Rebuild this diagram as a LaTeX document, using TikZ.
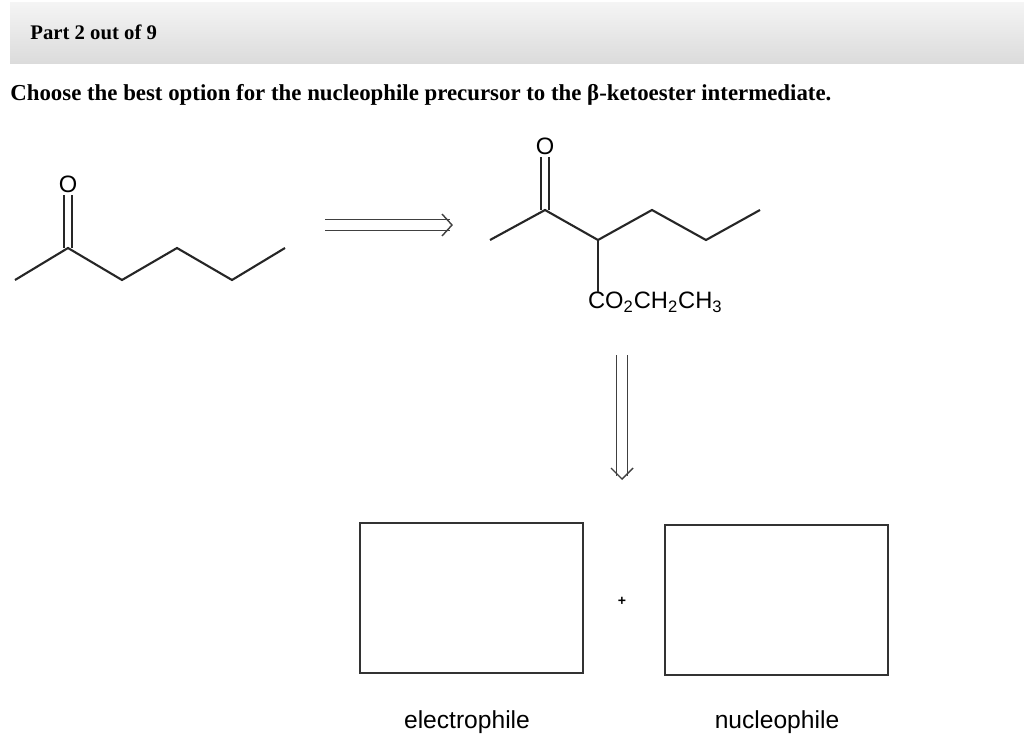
\documentclass[tikz,border=0pt]{standalone}
\usepackage{fontspec}
\setmainfont{Liberation Serif}
\setsansfont{Liberation Sans}
\usetikzlibrary{positioning}
\tikzset{
  bond/.style={line width=1.2pt, draw=black!85},
  retro/.style={line width=0.8pt, draw=black!75},
  chem/.style={font=\sffamily\fontsize{13.5}{14}\selectfont, inner sep=1pt},
  answerbox/.style={draw=black!80, line width=0.8pt, minimum width=223*0.02cm, minimum height=150*0.02cm, inner sep=0pt},
}
\begin{document}
\begin{tikzpicture}[x=0.02cm, y=-0.02cm]
  \useasboundingbox (0,0) rectangle (1024,744);
  % header bar
  \shade[top color=black!4, bottom color=black!14] (10,2) rectangle (1024,63);
  \node[anchor=west, font=\bfseries\fontsize{11.8}{13}\selectfont, inner sep=0pt] (part) at (30,32) {Part 2 out of 9};
  \node[anchor=west, font=\bfseries\fontsize{13}{15}\selectfont, inner sep=0pt] (question) at (10,95)
    {Choose the best option for the nucleophile precursor to the β-ketoester intermediate.};
  % target ketone
  \coordinate (a1) at (15,280);
  \coordinate (a2) at (68,248);
  \coordinate (a3) at (122,280);
  \coordinate (a4) at (177,248);
  \coordinate (a5) at (232,280);
  \coordinate (a6) at (285,248);
  \node[chem] (ao) at (68,184) {O};
  \draw[bond] (a1) -- (a2) -- (a3) -- (a4) -- (a5) -- (a6);
  \draw[bond] ([xshift=-2.5pt]a2) -- ([xshift=-2.5pt]ao.south);
  \draw[bond] ([xshift=2.5pt]a2) -- ([xshift=2.5pt]ao.south);
  % retrosynthetic arrow
  \coordinate (r1) at (325,225);
  \coordinate (r2) at (450,225);
  \draw[retro] ([yshift=3pt]r1) -- ([yshift=3pt]r2);
  \draw[retro] ([yshift=-3pt]r1) -- ([yshift=-3pt]r2);
  \draw[retro] (442,214) -- (452,225) -- (442,236);
  % beta-ketoester
  \coordinate (b1) at (490,240);
  \coordinate (b2) at (545,210);
  \coordinate (b3) at (598,240);
  \coordinate (b4) at (652,210);
  \coordinate (b5) at (706,240);
  \coordinate (b6) at (760,210);
  \node[chem] (bo) at (545,146) {O};
  \node[chem, anchor=north west] (ester) at (586,290) {CO\textsubscript{2}CH\textsubscript{2}CH\textsubscript{3}};
  \draw[bond] (b1) -- (b2) -- (b3) -- (b4) -- (b5) -- (b6);
  \draw[bond] (b3) -- (598,292);
  \draw[bond] ([xshift=-2.5pt]b2) -- ([xshift=-2.5pt]bo.south);
  \draw[bond] ([xshift=2.5pt]b2) -- ([xshift=2.5pt]bo.south);
  % retrosynthetic arrow down
  \coordinate (d1) at (622,355);
  \coordinate (d2) at (622,476);
  \draw[retro] ([xshift=-3pt]d1) -- ([xshift=-3pt]d2);
  \draw[retro] ([xshift=3pt]d1) -- ([xshift=3pt]d2);
  \draw[retro] (611,468) -- (622,479) -- (633,468);
  % answer boxes
  \node[answerbox] (electro) at (471.5,598) {};
  \node[answerbox] (nucleo) at (776.5,600) {};
  \node[chem, font=\sffamily\bfseries\fontsize{8}{9}\selectfont] (plus) at (622,601) {+};
  \node[chem, font=\sffamily\fontsize{14}{15}\selectfont] (elabel) at (467,722) {electrophile};
  \node[chem, font=\sffamily\fontsize{14}{15}\selectfont] (nlabel) at (777,722) {nucleophile};
\end{tikzpicture}
\end{document}
